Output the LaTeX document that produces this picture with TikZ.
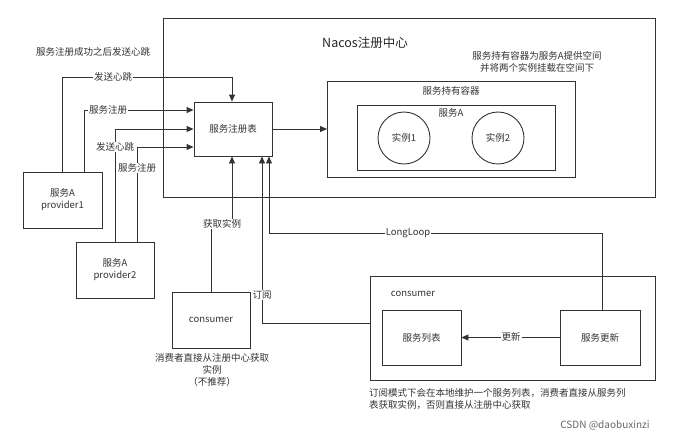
\documentclass[tikz,border=0pt]{standalone}
\usepackage{fontspec}
\setmainfont{Noto Sans CJK SC}
\usetikzlibrary{arrows.meta}
\begin{document}
\begin{tikzpicture}[x=1pt,y=-1pt,
  box/.style={draw=black!80,line width=0.9pt},
  lbl/.style={font=\fontsize{9.5}{12}\selectfont,text=black!80,inner sep=1pt},
  wl/.style={lbl,fill=white},
  con/.style={draw=black!80,line width=0.9pt,-{Triangle[length=7pt,width=6pt]}}]
\useasboundingbox[fill=white] (0,0) rectangle (675,440);
\draw[box] (163,18) rectangle (655,197);
\node[font=\fontsize{12.5}{14}\selectfont,text=black!85] (title) at (365,43) {Nacos注册中心};
\node[lbl,align=center] (note1) at (537,62) {服务持有容器为服务A提供空间\\并将两个实例挂载在空间下};
\draw[box] (327,81) rectangle (575,177);
\node[lbl] (hold) at (451,91) {服务持有容器};
\draw[box] (357,105) rectangle (555,170);
\node[lbl] (sa) at (451,113) {服务A};
\node[box,circle,minimum size=52pt,lbl] (i1) at (404,138) {实例1};
\node[box,circle,minimum size=52pt,lbl] (i2) at (498,138) {实例2};
\node[box,lbl,minimum width=78pt,minimum height=54pt] (reg) at (233,129) {服务注册表};
\coordinate (cont) at (327,129);
\draw[con] (reg.east) -- (cont);
\node[box,lbl,align=center,minimum width=79pt,minimum height=56pt] (p1) at (62.5,200) {服务A\\provider1};
\node[box,lbl,align=center,minimum width=78pt,minimum height=56pt] (p2) at (115,270) {服务A\\provider2};
\node[lbl] (succ) at (93,52) {服务注册成功之后发送心跳};
\draw[con] (p1.north -| 62,0) |- (232,77) -- (reg.north -| 232,0);
\node[wl] at (113,77) {发送心跳};
\draw[con] (p1.north -| 84,0) |- (reg.west |- 0,110);
\node[wl] at (108,110) {服务注册};
\draw[con] (p2.north -| 115,0) |- (reg.west |- 0,129);
\draw[con] (p2.north -| 137,0) |- (reg.west |- 0,147);
\node[wl] at (115,147) {发送心跳};
\node[wl] at (137,168) {服务注册};
\node[box,lbl,minimum width=78pt,minimum height=56pt] (c1) at (211,320) {consumer};
\draw[con] (c1.north) -- (211,224) -| (reg.south -| 232,0);
\node[wl] at (222,224) {获取实例};
\node[lbl,align=center] (c1n) at (212,370) {消费者直接从注册中心获取\\实例\\（不推荐）};
\draw[box] (370,276) rectangle (655,380);
\node[lbl] (c2) at (413,294) {consumer};
\node[box,lbl,minimum width=79pt,minimum height=55pt] (list) at (421.5,337.5) {服务列表};
\node[box,lbl,minimum width=80pt,minimum height=55pt] (upd) at (600,337.5) {服务更新};
\draw[con] (upd.west) -- (list.east);
\node[wl] at (511,337) {更新};
\coordinate (sub) at (370,323);
\draw[con] (sub) -| (reg.south -| 262,0);
\node[wl] at (262,295) {订阅};
\draw[con] (upd.north -| 602,0) |- (269,233) -- (reg.south -| 269,0);
\node[wl] at (408,233) {LongLoop};
\node[lbl,align=left,anchor=north west] (note2) at (368,387) {订阅模式下会在本地维护一个服务列表，消费者直接从服务列\\表获取实例，否则直接从注册中心获取};
\node[font=\fontsize{10}{12}\selectfont,text=black!60] (wm) at (605,425) {CSDN @daobuxinzi};
\end{tikzpicture}
\end{document}
